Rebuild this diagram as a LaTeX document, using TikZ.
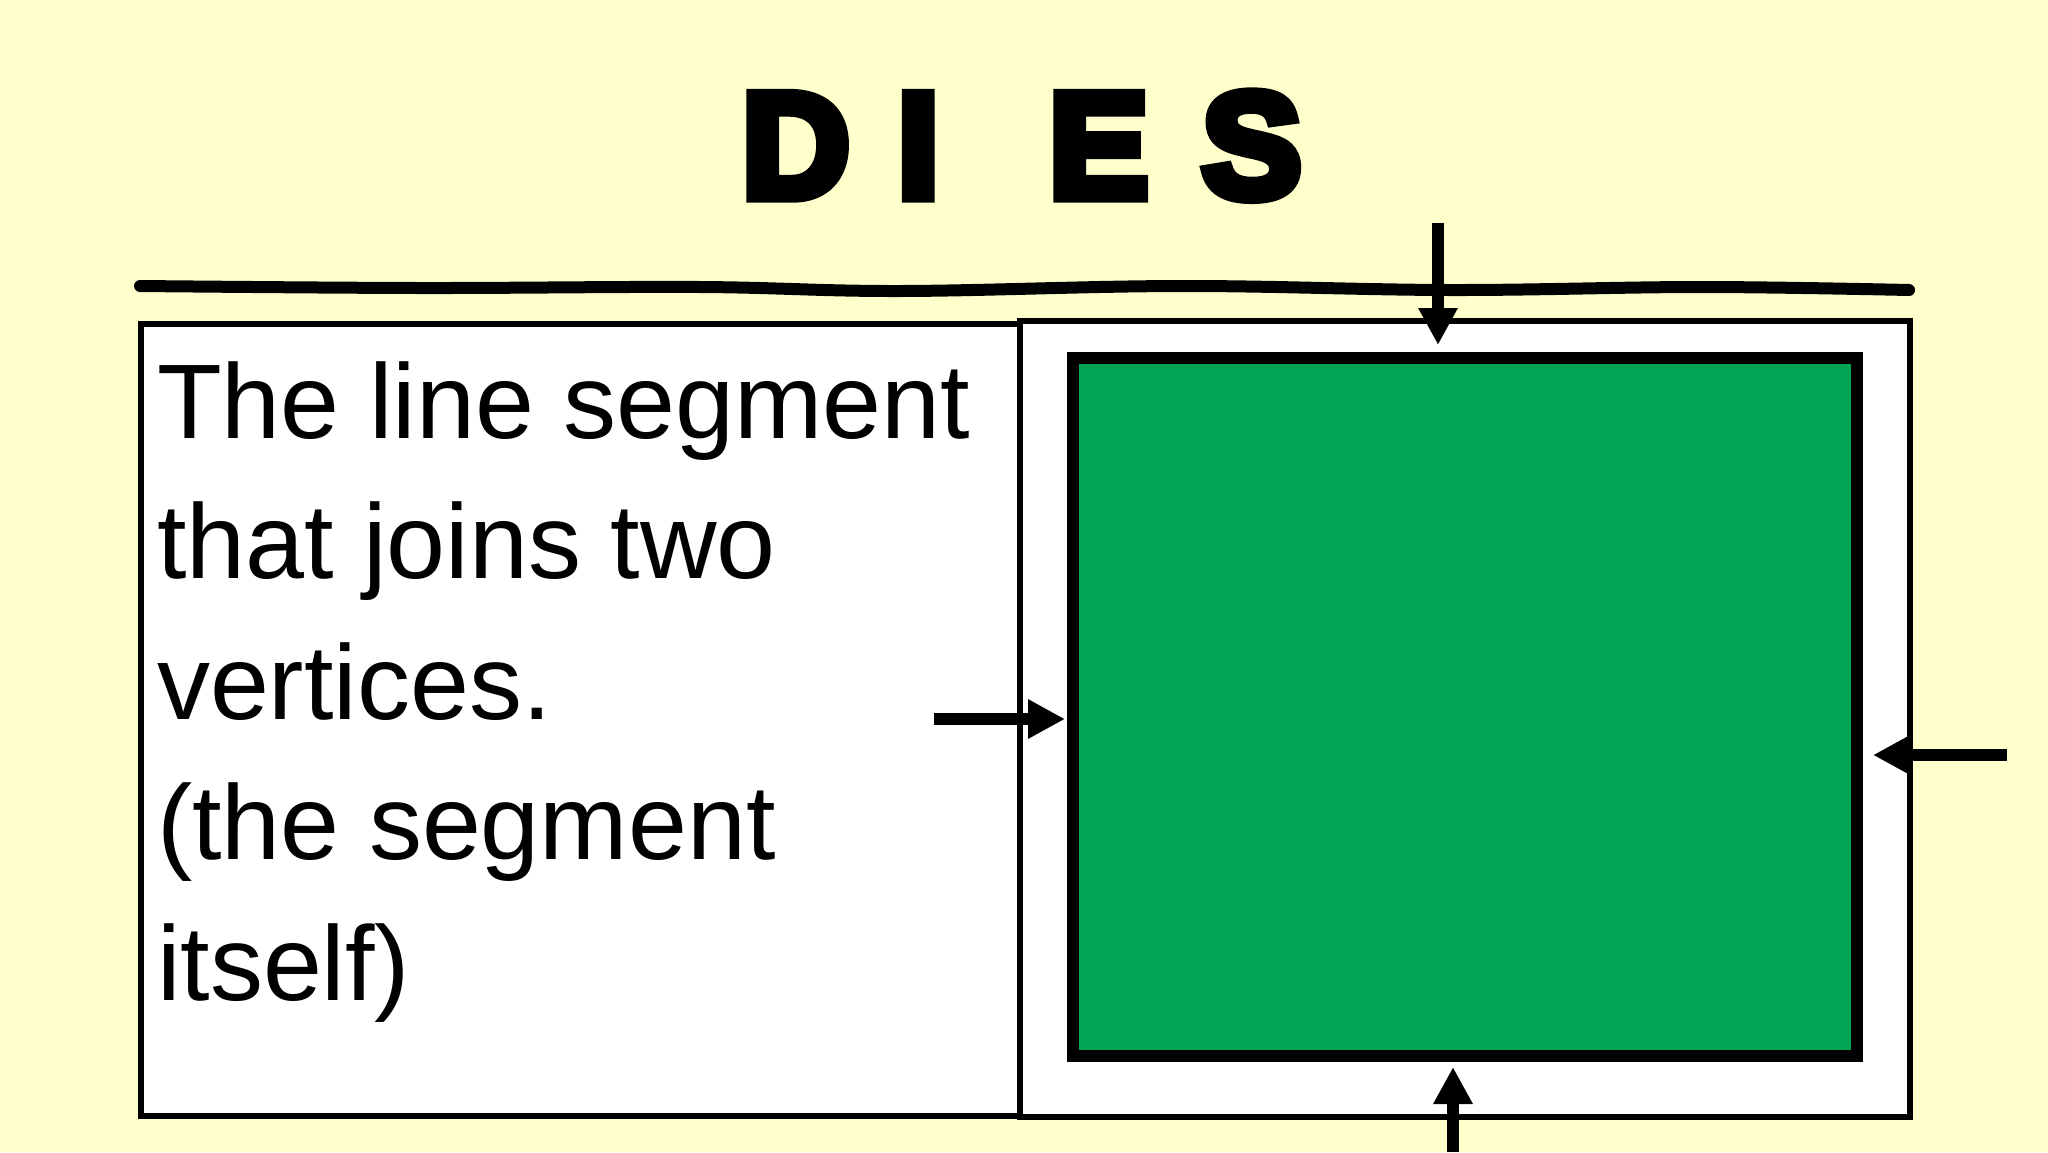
\documentclass[tikz,border=0pt]{standalone}
\usepackage{fontspec}
\setmainfont{Liberation Sans}
\newfontfamily\titlefont{Liberation Sans Bold}[FakeBold=7.5]
\usetikzlibrary{arrows.meta}
\definecolor{bgyellow}{RGB}{255,255,204}
\definecolor{sqgreen}{RGB}{0,164,82}
\begin{document}
\begin{tikzpicture}[x=1pt,y=-1pt,
  box/.style={draw=black,fill=white,line width=6pt,inner sep=0pt,outer sep=0pt,anchor=north west},
  sqbox/.style={draw=black,fill=sqgreen,line width=12pt,inner sep=0pt,outer sep=0pt,anchor=north west},
  ptr/.style={line width=12.5pt,-{Triangle[length=37pt,width=37pt]}},
  letter/.style={inner sep=0pt,outer sep=0pt,anchor=base west,font=\titlefont\fontsize{149}{149}\selectfont}]
\useasboundingbox (0,0) rectangle (2048,1152);
\fill[bgyellow] (0,0) rectangle (2048,1152);
% title
\node[letter] (tD) at (742,197) {D};
\node[letter] (tI) at (897.5,197) {I};
\node[letter] (tE) at (1049,197) {E};
\node[letter] (tS) at (1202,197) {S};
% hand drawn rule
\draw[line width=12pt,line cap=round] plot[smooth,tension=0.6] coordinates
  {(140,286) (420,288) (700,287) (900,291) (1180,286) (1450,290) (1700,287) (1909,290)};
% boxes
\node[box,minimum width=879pt,minimum height=792pt] (leftbox) at (141,324) {};
\node[box,minimum width=890pt,minimum height=796pt] (rightbox) at (1020,321) {};
% green square
\node[sqbox,minimum width=784pt,minimum height=698pt] (sq) at (1073,358) {};
% text
\node[anchor=base west,inner sep=0pt,outer sep=0pt] (txt) at (157,438)
  {\begin{minipage}[t]{840pt}\fontsize{106}{140.5}\selectfont
   The line segment\\that joins two\\vertices.\\(the segment\\itself)\end{minipage}};
% arrows
\coordinate (t0) at (1438,223); \coordinate (t1) at (1438,345);
\coordinate (l0) at (934,719);  \coordinate (l1) at (1065,719);
\coordinate (r0) at (2007,755); \coordinate (r1) at (1873,755);
\coordinate (b0) at (1453,1152); \coordinate (b1) at (1453,1067);
\draw[ptr] (t0) -- (t1);
\draw[ptr] (l0) -- (l1);
\draw[ptr] (r0) -- (r1);
\draw[ptr] (b0) -- (b1);
\end{tikzpicture}
\end{document}
